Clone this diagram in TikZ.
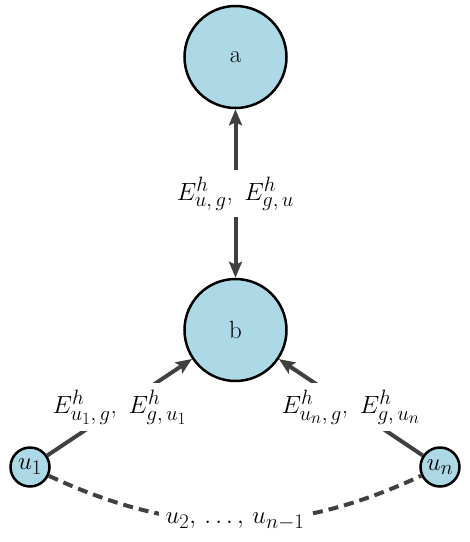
\documentclass[tikz,border=0pt]{standalone}
\usetikzlibrary{arrows.meta}
\definecolor{nodefill}{HTML}{ADD8E6}
\definecolor{edgecol}{HTML}{404040}
\begin{document}
\begin{tikzpicture}[x=1pt,y=-1pt,
  bignode/.style={circle, draw=black, line width=2.5pt, fill=nodefill, minimum size=102pt, inner sep=0pt, font=\fontsize{24.88}{28}\selectfont},
  smallnode/.style={circle, draw=black, line width=2.5pt, fill=nodefill, minimum size=39pt, inner sep=0pt, font=\fontsize{24.88}{28}\selectfont},
  edge/.style={draw=edgecol, line width=4pt},
  lbl/.style={fill=white, inner sep=7pt, font=\fontsize{24.88}{28}\selectfont}]
\useasboundingbox (0,0) rectangle (470,542);
\node[bignode] (a) at (235.5,57) {a};
\node[bignode] (b) at (235.5,330) {b};
\node[smallnode] (u1) at (30,467) {$u_1$};
\node[smallnode] (un) at (440,467) {$u_n$};
\draw[edge, {Stealth[length=16pt,width=13pt,inset=3pt]}-{Stealth[length=16pt,width=13pt,inset=3pt]}] (a) -- node[lbl] {$E^{h}_{u,\,g}$,\, $E^{h}_{g,\,u}$} (b);
\draw[edge, -{Stealth[length=16pt,width=13pt,inset=3pt]}] (u1) -- node[lbl] {$E^{h}_{u_1,\,g}$,\, $E^{h}_{g,\,u_1}$} (b);
\draw[edge, -{Stealth[length=16pt,width=13pt,inset=3pt]}] (un) -- node[lbl] {$E^{h}_{u_n,\,g}$,\, $E^{h}_{g,\,u_n}$} (b);
\draw[edge, dash pattern=on 10pt off 6pt] (u1) to[bend right=25] node[lbl] {$u_2,\,\ldots,\,u_{n-1}$} (un);
\end{tikzpicture}
\end{document}
